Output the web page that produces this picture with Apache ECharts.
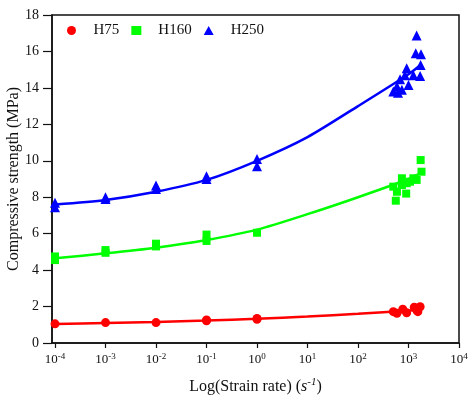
<!DOCTYPE html>
<html>
<head>
<meta charset="utf-8">
<script src="https://cdn.jsdelivr.net/npm/echarts@6/dist/echarts.min.js"></script>
<style>
  html, body { margin: 0; padding: 0; background: #fff; }
  #chart-container { width: 474px; height: 405px; }
</style>
</head>
<body>
<div id="chart-container"></div>
<script>
// series names
const seriesNames = ["H75", "H160", "H250"];
const seriesColors = ["#ff0000", "#00ff00", "#0000ff"];

// measured points: strain rate (1/s) and compressive strength (MPa)
const h75Rate = [1e-4, 1e-3, 1e-2, 0.1, 0.1, 1, 1, 500, 590, 770, 920, 1300, 1450, 1530, 1700];
const h75Strength = [1.05, 1.12, 1.12, 1.22, 1.26, 1.35, 1.3, 1.72, 1.63, 1.85, 1.66, 1.96, 1.81, 1.72, 1.99];

const h160Rate = [1e-4, 1e-4, 1e-3, 1e-3, 1e-2, 1e-2, 0.1, 0.1, 1, 500, 560, 590, 740, 740, 900, 920, 1070, 1250, 1450, 1740, 1810];
const h160Strength = [4.55, 4.75, 4.95, 5.1, 5.3, 5.45, 5.6, 5.95, 6.05, 8.58, 7.81, 8.3, 9.04, 8.67, 8.2, 8.77, 8.85, 9.04, 8.95, 10.04, 9.4];

const h250Rate = [1e-4, 1e-4, 1e-3, 1e-3, 1e-2, 1e-2, 0.1, 0.1, 1, 1, 500, 590, 620, 680, 740, 850, 920, 1000, 1250, 1390, 1450, 1700, 1740, 1770];
const h250Strength = [7.45, 7.7, 7.9, 8.0, 8.45, 8.65, 9.0, 9.15, 9.7, 10.1, 13.8, 14.07, 13.74, 14.47, 13.9, 14.7, 15.08, 14.16, 14.7, 15.9, 16.87, 14.65, 15.26, 15.85];

// fitted curves
const fitRate = [1e-4, 1e-3, 1e-2, 0.1, 1, 10, 100, 1000, 1800];
const h75Fit = [1.04, 1.1, 1.15, 1.23, 1.33, 1.45, 1.6, 1.78, 1.84];
const h160Fit = [4.65, 4.92, 5.23, 5.65, 6.22, 7.07, 8.0, 9.0, 9.35];
const h250Fit = [7.6, 7.85, 8.3, 8.95, 10.0, 11.3, 13.0, 14.75, 15.3];

// x tick exponents (10^n)
const xTickExp = [-4, -3, -2, -1, 0, 1, 2, 3, 4];

const toPairs = (rates, vals) => rates.map((r, i) => [Math.log10(r), vals[i]]);

var dom = document.getElementById("chart-container");
var myChart = echarts.init(dom, null, { renderer: "canvas" });

const font = "Liberation Serif";
const scatterDefs = [
  { name: "H75", rate: h75Rate, val: h75Strength, symbol: "circle", size: 9 },
  { name: "H160", rate: h160Rate, val: h160Strength, symbol: "rect", size: 8 },
  { name: "H250", rate: h250Rate, val: h250Strength, symbol: "triangle", size: 10 }
];
const fits = [h75Fit, h160Fit, h250Fit];

let series = [];
scatterDefs.forEach((d, i) => {
  series.push({
    name: d.name,
    type: "scatter",
    symbol: d.symbol,
    symbolSize: d.size,
    itemStyle: { color: seriesColors[i], opacity: 1 },
    data: toPairs(d.rate, d.val),
    z: 3
  });
  series.push({
    name: d.name + " fit",
    type: "line",
    smooth: 0.25,
    showSymbol: false,
    symbol: "none",
    lineStyle: { color: seriesColors[i], width: 2.5 },
    data: toPairs(fitRate, fits[i]),
    z: 2
  });
});

var option = {
  backgroundColor: "#fff",
  animation: false,
  grid: {
    left: 52, right: 15, top: 15, bottom: 62,
    outerBoundsMode: "none",
    containLabel: false,
    show: true, borderColor: "#111", borderWidth: 1.5
  },
  legend: {
    data: [
      { name: "H75", icon: "circle" },
      { name: "H160", icon: "rect" },
      { name: "H250", icon: "triangle" }
    ],
    left: 62, top: 18,
    itemWidth: 10, itemHeight: 9,
    itemGap: 12,
    textStyle: { fontFamily: font, fontSize: 15, color: "#111", padding: [0, 0, 0, 12] }
  },
  xAxis: {
    type: "value",
    min: -4.06, max: 4,
    splitLine: { show: false },
    axisLine: { onZero: false, lineStyle: { color: "#111", width: 1.5 } },
    axisTick: { customValues: xTickExp, length: 5, lineStyle: { color: "#111", width: 1.2 } },
    axisLabel: {
      customValues: xTickExp,
      margin: 9,
      formatter: (v) => "10{sup|" + v + "}",
      fontFamily: font, fontSize: 13, color: "#111",
      rich: { sup: { fontFamily: font, fontSize: 9, padding: [0, 0, 7, 0], color: "#111" } }
    },
    name: "Log(Strain rate) ({it|s}{itsup|-1})",
    nameLocation: "middle",
    nameGap: 34,
    nameTextStyle: {
      fontFamily: font, fontSize: 16, color: "#111",
      rich: {
        it: { fontFamily: font, fontSize: 16, fontStyle: "italic", color: "#111" },
        itsup: { fontFamily: font, fontSize: 11, fontStyle: "italic", padding: [0, 0, 8, 0], color: "#111" }
      }
    }
  },
  yAxis: {
    type: "value",
    min: 0, max: 18, interval: 2,
    splitLine: { show: false },
    axisLine: { show: true, onZero: false, lineStyle: { color: "#111", width: 1.5 } },
    axisTick: { show: true, length: 9, lineStyle: { color: "#111", width: 1.2 } },
    axisLabel: { fontFamily: font, fontSize: 14, color: "#111", margin: 13 },
    name: "Compressive strength (MPa)",
    nameLocation: "middle",
    nameGap: 30,
    nameMoveOverlap: false,
    nameTextStyle: { fontFamily: font, fontSize: 16, color: "#111" }
  },
  series: series
};

myChart.setOption(option);
window.addEventListener("resize", myChart.resize);
</script>
</body>
</html>
